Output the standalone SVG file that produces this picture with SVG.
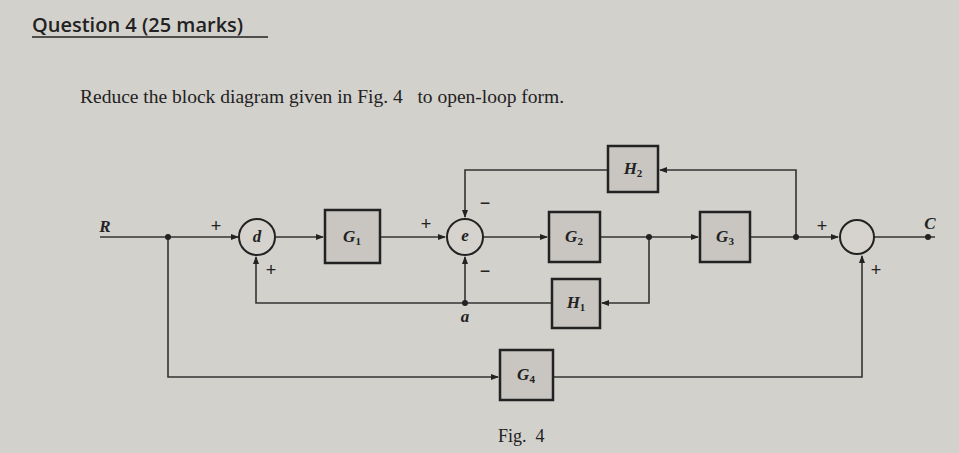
<svg xmlns="http://www.w3.org/2000/svg" width="959" height="453" viewBox="0 0 959 453">
<style>
.blk{fill:#c9c6c1;stroke:#222;stroke-width:2.5}
.sum{fill:#d6d3ce;stroke:#222;stroke-width:2}
.ln{fill:none;stroke:#333;stroke-width:1.6}
.lab{font-family:"Liberation Serif",serif;font-style:italic;font-weight:bold;font-size:17px;fill:#222;text-anchor:middle}
.sub{font-size:11px;font-style:normal}
.sg{font-family:"Liberation Sans",sans-serif;font-size:18px;fill:#222;text-anchor:middle}
</style>
<defs><marker id="ar" markerWidth="8" markerHeight="6" refX="7" refY="3" orient="auto" markerUnits="userSpaceOnUse"><path d="M0,0L8,3L0,6z" fill="#222"/></marker></defs>
<rect width="959" height="453" fill="#d3d1cc"/>
<text x="32" y="32" font-family="Open Sans,sans-serif" font-weight="600" font-size="20" fill="#222">Question 4 (25 marks)</text>
<line x1="32" y1="37" x2="268" y2="37" stroke="#222" stroke-width="1.5"/>
<text x="80" y="103" font-family="Liberation Serif,serif" font-size="19.5" fill="#222" xml:space="preserve">Reduce the block diagram given in Fig. 4   to open-loop form.</text>
<g id="connectors" class="ln">
<path d="M100,237H238" marker-end="url(#ar)"/>
<path d="M276,237H323" marker-end="url(#ar)"/>
<path d="M380,237H445" marker-end="url(#ar)"/>
<path d="M483,237H547" marker-end="url(#ar)"/>
<path d="M600,237H698" marker-end="url(#ar)"/>
<path d="M750,237H838" marker-end="url(#ar)"/>
<path d="M874,237H935"/>
<path d="M796,237V170H660" marker-end="url(#ar)"/>
<path d="M608,170H465V217" marker-end="url(#ar)"/>
<path d="M649,237V303H602" marker-end="url(#ar)"/>
<path d="M552,303H256V257" marker-end="url(#ar)"/>
<path d="M465,303V257" marker-end="url(#ar)"/>
<path d="M168,237V377H498" marker-end="url(#ar)"/>
<path d="M553,377H862V256" marker-end="url(#ar)"/>
</g>
<g fill="#222"><circle cx="168" cy="237" r="3"/><circle cx="649" cy="237" r="3"/><circle cx="796" cy="237" r="3"/><circle cx="465" cy="303" r="3"/><circle cx="928" cy="237" r="3"/></g>
<g id="sum-d"><circle class="sum" cx="257" cy="237" r="18"/><text class="lab" x="257" y="242" font-size="15">d</text></g>
<g id="G1"><rect class="blk" x="325" y="210" width="55" height="53"/><text class="lab" x="352" y="242">G<tspan class="sub" dy="3">1</tspan></text></g>
<g id="sum-e"><circle class="sum" cx="465" cy="237" r="18"/><text class="lab" x="465" y="241" font-size="12">e</text></g>
<g id="G2"><rect class="blk" x="549" y="212" width="51" height="50"/><text class="lab" x="574" y="242">G<tspan class="sub" dy="3">2</tspan></text></g>
<g id="G3"><rect class="blk" x="700" y="212" width="50" height="50"/><text class="lab" x="725" y="242">G<tspan class="sub" dy="3">3</tspan></text></g>
<g id="sum-c"><circle class="sum" cx="857" cy="237" r="17"/></g>
<g id="H2"><rect class="blk" x="608" y="146" width="50" height="46"/><text class="lab" x="633" y="174">H<tspan class="sub" dy="3">2</tspan></text></g>
<g id="H1"><rect class="blk" x="552" y="279" width="48" height="49"/><text class="lab" x="576" y="308">H<tspan class="sub" dy="3">1</tspan></text></g>
<g id="G4"><rect class="blk" x="500" y="350" width="53" height="50"/><text class="lab" x="526" y="380">G<tspan class="sub" dy="3">4</tspan></text></g>
<text class="lab" x="105" y="232">R</text>
<text class="lab" x="930" y="229">C</text>
<text class="lab" x="465" y="322" font-size="14" font-weight="normal">a</text>
<g class="sg"><text x="216" y="232">+</text><text x="271" y="276">+</text><text x="426" y="230">+</text><text x="485" y="209">−</text><text x="485" y="277">−</text><text x="822" y="232">+</text><text x="876" y="276">+</text></g>
<text x="498" y="442" font-family="Liberation Serif,serif" font-size="18" fill="#222" xml:space="preserve">Fig.  4</text>
</svg>
